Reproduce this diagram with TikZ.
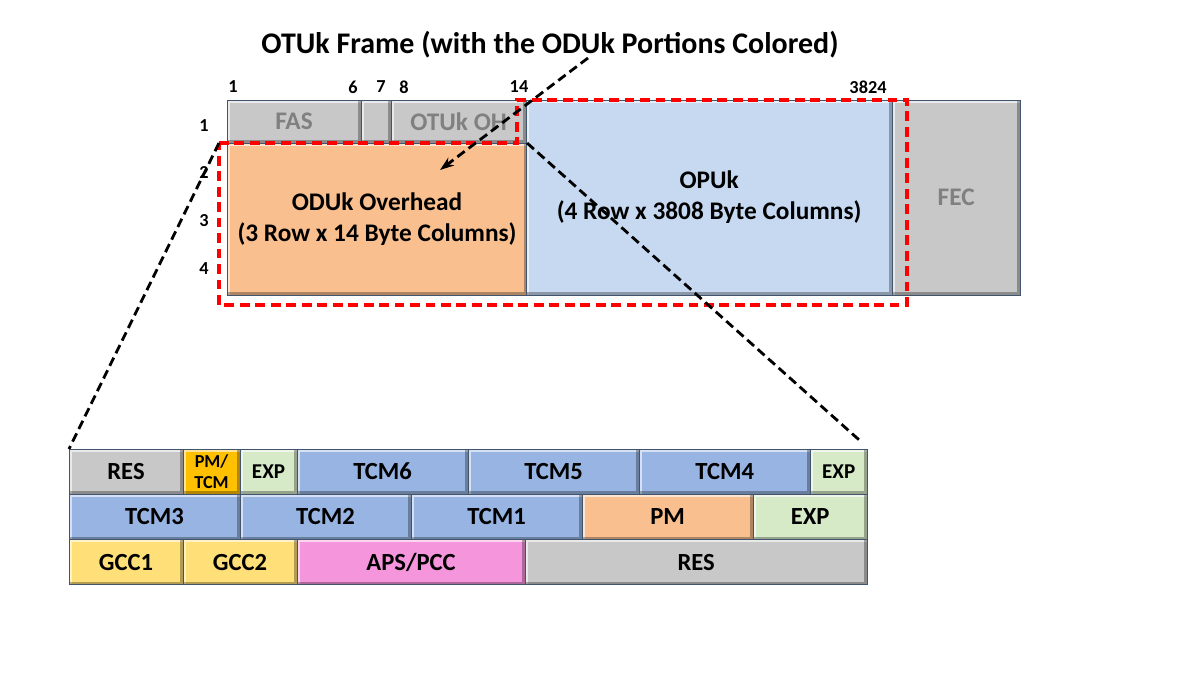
\documentclass[tikz,border=0pt]{standalone}
\usepackage{fontspec}
\setmainfont{Carlito}
\usepackage{xcolor}
\usetikzlibrary{arrows.meta, positioning}
\definecolor{otugray}{RGB}{200,200,200}
\definecolor{otutext}{RGB}{128,128,128}
\definecolor{oduorange}{RGB}{250,191,143}
\definecolor{opublue}{RGB}{198,217,241}
\definecolor{tcmblue}{RGB}{151,180,226}
\definecolor{expgreen}{RGB}{215,234,200}
\definecolor{pmgold}{RGB}{255,192,0}
\definecolor{gccyellow}{RGB}{255,224,120}
\definecolor{apspink}{RGB}{245,150,220}
\definecolor{celledge}{RGB}{65,85,110}
\definecolor{odured}{RGB}{255,0,0}

\begin{document}
\begin{tikzpicture}[x=0.025cm, y=-0.025cm,
      bev/.style={path picture={
          \draw[white, opacity=0.6, line width=4pt]
            (path picture bounding box.south west) -- (path picture bounding box.north west)
            -- (path picture bounding box.north east);
          \draw[black, opacity=0.3, line width=4pt]
            (path picture bounding box.north east) -- (path picture bounding box.south east)
            -- (path picture bounding box.south west);}},
      fbox/.style={draw=celledge, line width=0.7pt, inner sep=0pt, outer sep=0pt,
                   align=center, font=\bfseries\fontsize{18}{22}\selectfont, bev},
      cell/.style={fbox, minimum height=1.13cm, font=\bfseries\fontsize{17.5}{20}\selectfont},
      small/.style={font=\bfseries\fontsize{13}{14.5}\selectfont},
      tiny/.style={font=\bfseries\fontsize{15}{15}\selectfont},
      numlab/.style={font=\bfseries\fontsize{13}{13}\selectfont, inner sep=0pt},
      redbox/.style={odured, line width=2.2pt, dash pattern=on 7pt off 4pt},
      zoomline/.style={black, line width=2pt, dash pattern=on 6.5pt off 3.5pt}
    ]
    \useasboundingbox (0,0) rectangle (1200,675);

    % title
    \node[font=\bfseries\fontsize{21.3}{24}\selectfont] (title) at (550,45)
      {OTUk Frame (with the ODUk Portions Colored)};

    % OTUk frame
    \node[fbox, fill=otugray, text=otutext, minimum width=3.35cm, minimum height=1.075cm,
          anchor=north west] (fas) at (227,100) {FAS};
    \node[fbox, fill=otugray, minimum width=0.75cm, minimum height=1.075cm,
          right=0pt of fas] (col7) {};
    \node[fbox, fill=otugray, text=otutext, minimum width=3.375cm, minimum height=1.075cm,
          right=0pt of col7] (otuoh) {OTUk OH};
    \node[fbox, fill=oduorange, minimum width=7.5cm, minimum height=3.8cm,
          anchor=north west] (oduoh) at (fas.south west)
      {ODUk Overhead\\(3 Row x 14 Byte Columns)};
    \node[fbox, fill=opublue, minimum width=9.15cm, minimum height=4.875cm,
          anchor=north west] (opu) at (otuoh.north east)
      {OPUk\\(4 Row x 3808 Byte Columns)};
    \node[fbox, fill=otugray, text=otutext, minimum width=3.2cm, minimum height=4.875cm,
          right=0pt of opu] (fec) {FEC};

    % column and row numbers
    \node[numlab] (c1) at (233,87) {1};
    \node[numlab] (c6) at (353,87) {6};
    \node[numlab] (c7) at (381,87) {7};
    \node[numlab] (c8) at (404,87) {8};
    \node[numlab] (c14) at (519,87) {14};
    \node[numlab] (c3824) at (868,87) {3824};
    \foreach \r/\y in {1/126, 2/173, 3/221, 4/269}
      \node[numlab] (r\r) at (204,\y) {\r};

    % ODUk overhead bytes
    \node[cell, fill=otugray, minimum width=2.85cm, anchor=north west] (resa) at (69,449) {RES};
    \node[cell, small, fill=pmgold, minimum width=1.425cm, right=0pt of resa] (pmtcm) {PM/\\TCM};
    \node[cell, tiny, fill=expgreen, minimum width=1.425cm, right=0pt of pmtcm] (expa) {EXP};
    \node[cell, fill=tcmblue, minimum width=4.275cm, right=0pt of expa] (tcm6) {TCM6};
    \node[cell, fill=tcmblue, minimum width=4.275cm, right=0pt of tcm6] (tcm5) {TCM5};
    \node[cell, fill=tcmblue, minimum width=4.275cm, right=0pt of tcm5] (tcm4) {TCM4};
    \node[cell, tiny, fill=expgreen, minimum width=1.425cm, right=0pt of tcm4] (expb) {EXP};

    \node[cell, fill=tcmblue, minimum width=4.275cm, anchor=north west] (tcm3) at (resa.south west) {TCM3};
    \node[cell, fill=tcmblue, minimum width=4.275cm, right=0pt of tcm3] (tcm2) {TCM2};
    \node[cell, fill=tcmblue, minimum width=4.275cm, right=0pt of tcm2] (tcm1) {TCM1};
    \node[cell, fill=oduorange, minimum width=4.275cm, right=0pt of tcm1] (pm) {PM};
    \node[cell, fill=expgreen, minimum width=2.85cm, right=0pt of pm] (expc) {EXP};

    \node[cell, fill=gccyellow, minimum width=2.85cm, anchor=north west] (gcc1) at (tcm3.south west) {GCC1};
    \node[cell, fill=gccyellow, minimum width=2.85cm, right=0pt of gcc1] (gcc2) {GCC2};
    \node[cell, fill=apspink, minimum width=5.7cm, right=0pt of gcc2] (apspcc) {APS/PCC};
    \node[cell, fill=otugray, minimum width=8.55cm, right=0pt of apspcc] (resb) {RES};

    % ODUk portion outline
    \draw[redbox] (219,143) -- (517,143) -- (517,100) -- (907,100) -- (907,305)
      -- (219,305) -- cycle;

    % zoom lines
    \coordinate (redc) at (219,143);
    \coordinate (tarr) at (588,58);
    \coordinate (tend) at (440,170);
    \draw[zoomline] (redc) -- (resa.north west);
    \draw[zoomline] (oduoh.north east) -- ([shift={(-8,-9)}]expb.north east);
    \draw[zoomline, -{Stealth[length=10pt, width=7pt]}] (tarr) -- (tend);
  \end{tikzpicture}
\end{document}
